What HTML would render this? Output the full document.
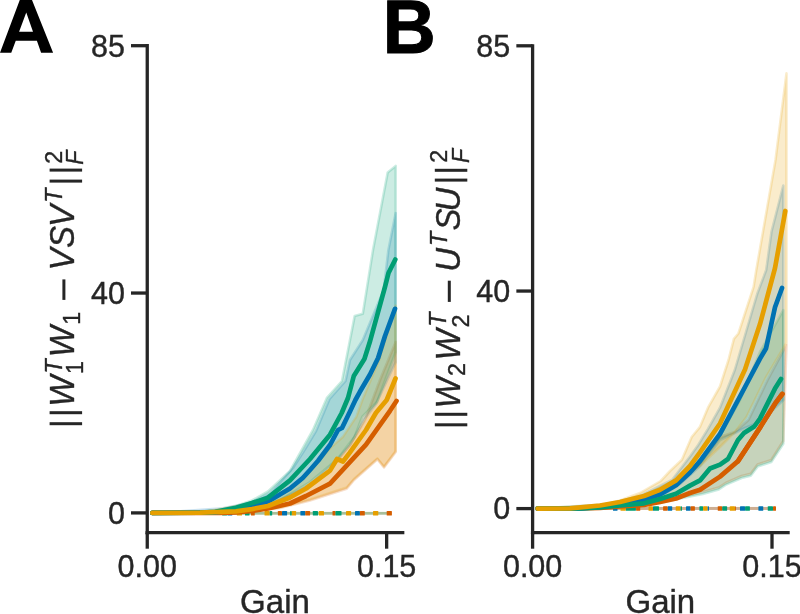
<!DOCTYPE html>
<html><head><meta charset="utf-8"><style>
html,body{margin:0;padding:0;background:#fff;}
svg{display:block;will-change:transform;}
.t{font-family:"Liberation Sans",sans-serif;font-size:30.5px;fill:#262626;stroke:#262626;stroke-width:0.4px;}
.g{font-family:"Liberation Sans",sans-serif;font-size:33.05px;fill:#262626;stroke:#262626;stroke-width:0.4px;}
.L{font-family:"Liberation Sans",sans-serif;fill:#262626;stroke:#262626;stroke-width:0.35px;}
.P{font-family:"Liberation Sans",sans-serif;font-weight:bold;font-size:73.3px;fill:#000;stroke:#000;stroke-width:1px;}
</style></head><body>
<svg width="800" height="614" viewBox="0 0 800 614">
<rect x="200" y="511.90" width="190.00" height="2.8" fill="#a9bf9a"/>
<rect x="227.40" y="511.00" width="4.90" height="4.6" rx="0.6" fill="#0072b2"/>
<rect x="282.00" y="511.00" width="5.10" height="4.6" rx="0.6" fill="#0072b2"/>
<rect x="300.40" y="511.00" width="4.90" height="4.6" rx="0.6" fill="#0072b2"/>
<rect x="355.00" y="511.00" width="4.90" height="4.6" rx="0.6" fill="#0072b2"/>
<rect x="251.00" y="511.00" width="3.75" height="4.6" rx="0.6" fill="#d55e00"/>
<rect x="277.90" y="511.00" width="4.10" height="4.6" rx="0.6" fill="#d55e00"/>
<rect x="305.30" y="511.00" width="4.80" height="4.6" rx="0.6" fill="#d55e00"/>
<rect x="332.50" y="511.00" width="3.00" height="4.6" rx="0.6" fill="#d55e00"/>
<rect x="359.90" y="511.00" width="4.90" height="4.6" rx="0.6" fill="#d55e00"/>
<rect x="386.70" y="511.00" width="5.20" height="4.6" rx="0.6" fill="#d55e00"/>
<rect x="222.10" y="511.00" width="4.90" height="4.6" rx="0.6" fill="#009e73"/>
<rect x="245.00" y="511.00" width="4.50" height="4.6" rx="0.6" fill="#009e73"/>
<rect x="269.60" y="511.00" width="2.60" height="4.6" rx="0.6" fill="#009e73"/>
<rect x="290.10" y="511.00" width="1.70" height="4.6" rx="0.6" fill="#009e73"/>
<rect x="312.80" y="511.00" width="5.20" height="4.6" rx="0.6" fill="#009e73"/>
<rect x="335.50" y="511.00" width="6.00" height="4.6" rx="0.6" fill="#009e73"/>
<rect x="236.80" y="511.00" width="5.20" height="4.6" rx="0.6" fill="#e69f00"/>
<rect x="264.50" y="511.00" width="5.10" height="4.6" rx="0.6" fill="#e69f00"/>
<rect x="291.80" y="511.00" width="4.30" height="4.6" rx="0.6" fill="#e69f00"/>
<rect x="318.80" y="511.00" width="5.20" height="4.6" rx="0.6" fill="#e69f00"/>
<rect x="346.00" y="511.00" width="5.10" height="4.6" rx="0.6" fill="#e69f00"/>
<rect x="373.00" y="511.00" width="5.30" height="4.6" rx="0.6" fill="#e69f00"/>
<rect x="590" y="506.95" width="185.00" height="3.0" fill="#cdae92"/>
<rect x="613.00" y="506.15" width="4.50" height="4.6" rx="0.6" fill="#0072b2"/>
<rect x="653.00" y="506.15" width="1.00" height="4.6" rx="0.6" fill="#0072b2"/>
<rect x="667.60" y="506.15" width="4.60" height="4.6" rx="0.6" fill="#0072b2"/>
<rect x="686.00" y="506.15" width="4.60" height="4.6" rx="0.6" fill="#0072b2"/>
<rect x="707.50" y="506.15" width="1.50" height="4.6" rx="0.6" fill="#0072b2"/>
<rect x="740.00" y="506.15" width="5.10" height="4.6" rx="0.6" fill="#0072b2"/>
<rect x="758.40" y="506.15" width="4.85" height="4.6" rx="0.6" fill="#0072b2"/>
<rect x="636.10" y="506.15" width="4.15" height="4.6" rx="0.6" fill="#d55e00"/>
<rect x="663.10" y="506.15" width="4.50" height="4.6" rx="0.6" fill="#d55e00"/>
<rect x="690.60" y="506.15" width="4.30" height="4.6" rx="0.6" fill="#d55e00"/>
<rect x="717.75" y="506.15" width="4.50" height="4.6" rx="0.6" fill="#d55e00"/>
<rect x="735.00" y="506.15" width="0.90" height="4.6" rx="0.6" fill="#d55e00"/>
<rect x="773.00" y="506.15" width="3.00" height="4.6" rx="0.6" fill="#d55e00"/>
<rect x="625.75" y="506.15" width="10.15" height="4.6" rx="0.6" fill="#009e73"/>
<rect x="653.75" y="506.15" width="5.25" height="4.6" rx="0.6" fill="#009e73"/>
<rect x="680.40" y="506.15" width="1.60" height="4.6" rx="0.6" fill="#009e73"/>
<rect x="699.40" y="506.15" width="3.70" height="4.6" rx="0.6" fill="#009e73"/>
<rect x="722.25" y="506.15" width="4.85" height="4.6" rx="0.6" fill="#009e73"/>
<rect x="745.10" y="506.15" width="4.80" height="4.6" rx="0.6" fill="#009e73"/>
<rect x="767.75" y="506.15" width="5.25" height="4.6" rx="0.6" fill="#009e73"/>
<rect x="620.50" y="506.15" width="5.25" height="4.6" rx="0.6" fill="#e69f00"/>
<rect x="648.50" y="506.15" width="4.50" height="4.6" rx="0.6" fill="#e69f00"/>
<rect x="675.70" y="506.15" width="4.70" height="4.6" rx="0.6" fill="#e69f00"/>
<rect x="703.10" y="506.15" width="4.40" height="4.6" rx="0.6" fill="#e69f00"/>
<rect x="729.75" y="506.15" width="5.25" height="4.6" rx="0.6" fill="#e69f00"/>
<polygon points="152.3,512.9 230.0,512.0 270.0,505.0 310.0,486.0 330.0,470.0 350.0,445.0 365.0,420.0 380.0,380.0 395.7,342.0 395.7,452.0 384.0,467.4 377.4,459.3 354.0,479.9 346.7,488.7 310.0,500.4 280.0,508.0 240.0,512.6 152.3,513.2" fill="#d55e00" fill-opacity="0.2" stroke="#d55e00" stroke-opacity="0.2" stroke-width="2.6" stroke-linejoin="round"/>
<polygon points="152.3,512.9 200.0,512.6 250.0,503.0 270.0,493.5 293.0,468.0 304.5,450.0 316.0,431.0 329.5,399.0 345.5,381.0 350.0,360.0 362.8,340.0 383.7,290.0 388.4,250.0 395.7,213.0 395.7,362.0 376.0,404.0 364.2,419.5 350.0,445.0 335.0,462.0 310.0,485.0 270.0,505.0 152.3,513.2" fill="#0072b2" fill-opacity="0.2" stroke="#0072b2" stroke-opacity="0.2" stroke-width="2.6" stroke-linejoin="round"/>
<polygon points="152.3,512.9 200.0,512.5 215.0,511.3 236.0,506.0 252.0,500.5 268.0,491.5 290.0,471.0 313.0,430.0 326.9,397.9 342.0,381.0 349.8,341.0 354.7,316.0 362.8,313.8 373.0,250.0 387.7,172.5 395.7,165.9 395.7,352.0 377.0,402.0 362.3,416.6 354.4,437.1 346.6,447.0 337.8,458.7 310.0,482.0 280.0,500.0 240.0,511.5 152.3,513.2" fill="#009e73" fill-opacity="0.2" stroke="#009e73" stroke-opacity="0.2" stroke-width="2.6" stroke-linejoin="round"/>
<polygon points="152.3,512.9 200.0,512.6 270.0,500.0 302.7,478.6 331.0,447.3 342.7,437.1 356.4,416.6 362.3,400.0 379.0,360.0 395.7,305.7 395.7,451.0 384.0,466.5 377.4,458.5 354.0,479.0 346.7,487.5 310.0,499.5 280.0,507.5 240.0,512.4 152.3,513.2" fill="#e69f00" fill-opacity="0.2" stroke="#e69f00" stroke-opacity="0.2" stroke-width="2.6" stroke-linejoin="round"/>
<polyline points="152.3,512.9 220.0,512.9 236.0,512.5 252.0,511.0 268.0,508.5 290.0,503.5 306.0,496.0 330.0,483.6 366.0,444.7 390.0,410.8 396.5,401.0" fill="none" stroke="#d55e00" stroke-width="4.7" stroke-linecap="round" stroke-linejoin="round"/>
<polyline points="152.3,512.9 215.0,512.3 236.0,510.0 252.0,506.0 268.0,501.5 290.0,488.5 302.7,478.0 310.0,470.0 318.3,460.5 330.0,445.0 338.0,430.0 342.0,428.0 350.0,411.5 355.4,400.0 359.6,392.3 370.0,374.5 378.1,358.0 385.0,336.0 395.0,308.8" fill="none" stroke="#0072b2" stroke-width="4.7" stroke-linecap="round" stroke-linejoin="round"/>
<polyline points="152.3,512.9 200.0,512.6 215.0,511.8 236.0,507.8 252.0,503.1 268.0,497.7 290.0,480.3 310.0,459.0 330.0,434.7 341.7,413.0 348.0,398.0 353.8,376.0 364.4,359.0 370.1,341.0 385.0,286.8 388.5,273.0 395.3,259.5" fill="none" stroke="#009e73" stroke-width="4.7" stroke-linecap="round" stroke-linejoin="round"/>
<polyline points="152.3,512.9 200.0,512.6 236.0,511.4 252.0,509.1 268.0,506.0 290.0,497.5 306.0,488.5 330.0,470.6 337.0,459.0 343.0,461.5 349.6,452.8 366.0,430.0 376.0,412.7 386.7,400.0 395.5,378.5" fill="none" stroke="#e69f00" stroke-width="4.7" stroke-linecap="round" stroke-linejoin="round"/>
<polygon points="537.6,508.6 620.0,504.0 660.0,491.0 680.0,479.0 700.0,463.0 720.0,437.0 735.0,432.0 748.5,420.0 767.6,380.0 786.5,345.0 783.3,441.0 771.3,460.0 757.6,464.5 750.7,473.7 741.6,476.0 725.6,483.0 718.8,487.5 702.8,492.0 680.0,497.5 660.0,502.0 620.0,506.5 537.6,508.9" fill="#d55e00" fill-opacity="0.2" stroke="#d55e00" stroke-opacity="0.2" stroke-width="2.6" stroke-linejoin="round"/>
<polygon points="537.6,508.6 600.0,506.0 640.0,496.0 672.0,480.0 690.0,456.5 698.2,445.0 708.0,428.9 720.0,407.7 734.8,370.0 757.2,294.0 766.2,270.0 771.5,231.7 783.3,185.6 783.3,400.0 760.0,422.0 745.0,428.0 720.0,440.0 700.0,466.0 680.0,484.0 660.0,497.0 620.0,506.5 537.6,508.9" fill="#0072b2" fill-opacity="0.2" stroke="#0072b2" stroke-opacity="0.2" stroke-width="2.6" stroke-linejoin="round"/>
<polygon points="537.6,508.6 620.0,503.5 660.0,492.0 680.0,481.0 700.0,461.0 720.0,436.0 740.0,400.0 760.0,352.0 783.3,310.2 783.3,443.8 771.3,462.0 757.6,466.6 750.7,475.7 741.6,478.0 725.6,484.9 718.8,489.4 702.8,494.0 680.0,498.6 660.0,503.0 620.0,507.0 537.6,508.9" fill="#009e73" fill-opacity="0.2" stroke="#009e73" stroke-opacity="0.2" stroke-width="2.6" stroke-linejoin="round"/>
<polygon points="537.6,508.6 580.0,507.8 600.0,505.5 620.0,500.5 640.0,493.0 660.7,481.0 670.0,471.0 681.9,459.8 691.7,437.0 699.8,427.2 708.0,407.7 720.0,386.5 728.5,360.0 733.9,338.9 738.4,333.5 753.6,286.9 756.3,270.0 775.5,160.0 786.5,73.4 786.5,343.0 765.6,378.0 746.5,417.0 735.0,432.0 722.0,445.0 700.0,466.0 660.0,493.0 620.0,505.0 537.6,508.9" fill="#e69f00" fill-opacity="0.2" stroke="#e69f00" stroke-opacity="0.2" stroke-width="2.6" stroke-linejoin="round"/>
<polyline points="537.6,508.6 580.0,508.4 600.0,507.8 620.0,506.5 644.0,505.0 660.0,502.0 676.0,498.5 690.0,493.0 700.0,489.8 720.0,476.6 738.0,461.1 760.0,427.6 775.0,403.7 782.3,394.0" fill="none" stroke="#d55e00" stroke-width="4.7" stroke-linecap="round" stroke-linejoin="round"/>
<polyline points="537.6,508.6 580.0,508.3 600.0,506.8 620.0,504.0 644.0,499.5 660.0,494.5 676.0,485.2 690.0,472.5 700.0,461.1 720.0,433.8 745.0,387.0 760.0,358.6 766.0,348.5 775.0,307.3 782.0,288.0" fill="none" stroke="#0072b2" stroke-width="4.7" stroke-linecap="round" stroke-linejoin="round"/>
<polyline points="537.6,508.6 580.0,508.4 600.0,507.5 620.0,505.5 644.0,503.3 660.0,499.0 676.0,493.7 690.0,485.6 700.0,480.4 710.0,468.5 720.0,464.6 728.0,459.0 738.0,440.0 744.0,433.0 754.3,426.5 760.0,418.5 775.0,388.6 781.0,379.0" fill="none" stroke="#009e73" stroke-width="4.7" stroke-linecap="round" stroke-linejoin="round"/>
<polyline points="738.0,461.1 760.0,427.6 775.0,403.7 782.3,394.0" fill="none" stroke="#d55e00" stroke-width="4.7" stroke-linecap="round" stroke-linejoin="round"/>
<polyline points="537.6,508.6 570.0,508.4 600.0,505.5 620.0,502.0 644.0,496.0 660.0,489.7 676.0,480.4 690.0,466.0 700.0,452.4 720.0,423.5 745.0,369.6 760.0,324.1 775.0,268.2 785.3,211.0" fill="none" stroke="#e69f00" stroke-width="4.7" stroke-linecap="round" stroke-linejoin="round"/>
<line x1="147.25" y1="45.7" x2="147.25" y2="532.6" stroke="#262626" stroke-width="3.3" stroke-linecap="square"/>
<line x1="147.25" y1="532.6" x2="402.7" y2="532.6" stroke="#262626" stroke-width="3.3" stroke-linecap="square"/>
<line x1="131.0" y1="45.7" x2="147.25" y2="45.7" stroke="#262626" stroke-width="3.3"/>
<line x1="131.0" y1="293.05" x2="147.25" y2="293.05" stroke="#262626" stroke-width="3.3"/>
<line x1="131.0" y1="512.9" x2="147.25" y2="512.9" stroke="#262626" stroke-width="3.3"/>
<line x1="147.25" y1="532.6" x2="147.25" y2="548.7" stroke="#262626" stroke-width="3.3"/>
<line x1="386.65" y1="532.6" x2="386.65" y2="548.7" stroke="#262626" stroke-width="3.3"/>
<text transform="translate(124.9 56.5) scale(1 1.03)" text-anchor="end" class="t">85</text>
<text transform="translate(124.9 303.85) scale(1 1.03)" text-anchor="end" class="t">40</text>
<text transform="translate(124.9 523.6999999999999) scale(1 1.03)" text-anchor="end" class="t">0</text>
<text transform="translate(147.25 577.0) scale(1 1.03)" text-anchor="middle" class="t">0.00</text>
<text transform="translate(386.65 577.0) scale(1 1.03)" text-anchor="middle" class="t">0.15</text>
<text transform="translate(275.0 612.9) scale(1 1.03)" text-anchor="middle" class="g">Gain</text>
<line x1="532.6" y1="45.8" x2="532.6" y2="532.6" stroke="#262626" stroke-width="3.3" stroke-linecap="square"/>
<line x1="532.6" y1="532.6" x2="788.05" y2="532.6" stroke="#262626" stroke-width="3.3" stroke-linecap="square"/>
<line x1="516.35" y1="45.8" x2="532.6" y2="45.8" stroke="#262626" stroke-width="3.3"/>
<line x1="516.35" y1="291.05" x2="532.6" y2="291.05" stroke="#262626" stroke-width="3.3"/>
<line x1="516.35" y1="508.6" x2="532.6" y2="508.6" stroke="#262626" stroke-width="3.3"/>
<line x1="532.6" y1="532.6" x2="532.6" y2="548.7" stroke="#262626" stroke-width="3.3"/>
<line x1="772.0" y1="532.6" x2="772.0" y2="548.7" stroke="#262626" stroke-width="3.3"/>
<text transform="translate(510.25 56.599999999999994) scale(1 1.03)" text-anchor="end" class="t">85</text>
<text transform="translate(510.25 301.85) scale(1 1.03)" text-anchor="end" class="t">40</text>
<text transform="translate(510.25 519.4) scale(1 1.03)" text-anchor="end" class="t">0</text>
<text transform="translate(532.6 577.0) scale(1 1.03)" text-anchor="middle" class="t">0.00</text>
<text transform="translate(772.0 577.0) scale(1 1.03)" text-anchor="middle" class="t">0.15</text>
<text transform="translate(660.35 612.9) scale(1 1.03)" text-anchor="middle" class="g">Gain</text>
<path d="M0 52.75 L20.9 -3 L30.8 -3 L53.1 52.75 L41.1 52.75 L36.9 40.75 L15.75 40.75 L11.25 52.75 Z M19.1 31.75 L26.25 12.4 L33 31.75 Z" fill="#000" fill-rule="evenodd"/>
<text transform="translate(382.7 52.5) scale(1 1.04)" text-anchor="start" class="P">B</text>
<g transform="translate(74.3 430) rotate(-90) scale(1 1.04)">
<text x="23.14" y="0.00" style="font-style:italic;font-size:33.05px" class="L">W</text>
<text x="56.42" y="-11.83" style="font-style:italic;font-size:23.13px" class="L">T</text>
<text x="55.94" y="8.56" style="font-size:23.13px" class="L">1</text>
<text x="72.74" y="0.00" style="font-style:italic;font-size:33.05px" class="L">W</text>
<text x="105.24" y="5.38" style="font-size:23.13px" class="L">1</text>
<text x="159.44" y="0.00" style="font-style:italic;font-size:33.05px" class="L">V</text>
<text x="181.96" y="0.00" style="font-style:italic;font-size:33.05px" class="L">S</text>
<text x="202.94" y="0.00" style="font-style:italic;font-size:33.05px" class="L">V</text>
<text x="227.22" y="-11.83" style="font-style:italic;font-size:23.13px" class="L">T</text>
<text x="266.24" y="-11.83" style="font-size:23.13px" class="L">2</text>
<text x="265.29" y="8.65" style="font-style:italic;font-size:23.13px" class="L">F</text>
</g>
<rect x="49.6" y="422.2" width="32.50" height="3.00" fill="#262626"/>
<rect x="49.6" y="411.2" width="32.50" height="3.00" fill="#262626"/>
<rect x="62.4" y="279.4" width="3.00" height="20.50" fill="#262626"/>
<rect x="49.6" y="179.6" width="32.50" height="3.00" fill="#262626"/>
<rect x="49.6" y="168.6" width="32.50" height="3.00" fill="#262626"/>
<g transform="translate(460.0 430) rotate(-90) scale(1 1.04)">
<text x="21.44" y="0.00" style="font-style:italic;font-size:33.05px" class="L">W</text>
<text x="54.04" y="4.71" style="font-size:23.13px" class="L">2</text>
<text x="69.44" y="0.00" style="font-style:italic;font-size:33.05px" class="L">W</text>
<text x="103.22" y="-13.27" style="font-style:italic;font-size:23.13px" class="L">T</text>
<text x="102.54" y="8.65" style="font-size:23.13px" class="L">2</text>
<text x="158.23" y="0.00" style="font-style:italic;font-size:33.05px" class="L">U</text>
<text x="183.92" y="-12.12" style="font-style:italic;font-size:23.13px" class="L">T</text>
<text x="199.46" y="0.00" style="font-style:italic;font-size:33.05px" class="L">S</text>
<text x="218.53" y="0.00" style="font-style:italic;font-size:33.05px" class="L">U</text>
<text x="267.34" y="-12.12" style="font-size:23.13px" class="L">2</text>
<text x="266.89" y="8.56" style="font-style:italic;font-size:23.13px" class="L">F</text>
</g>
<rect x="434.8" y="423.3" width="32.50" height="3.00" fill="#262626"/>
<rect x="434.8" y="412.8" width="32.50" height="3.00" fill="#262626"/>
<rect x="447.8" y="280.7" width="3.00" height="21.20" fill="#262626"/>
<rect x="434.8" y="178.6" width="32.50" height="3.00" fill="#262626"/>
<rect x="434.8" y="168.8" width="32.50" height="3.00" fill="#262626"/>
</svg>
</body></html>
